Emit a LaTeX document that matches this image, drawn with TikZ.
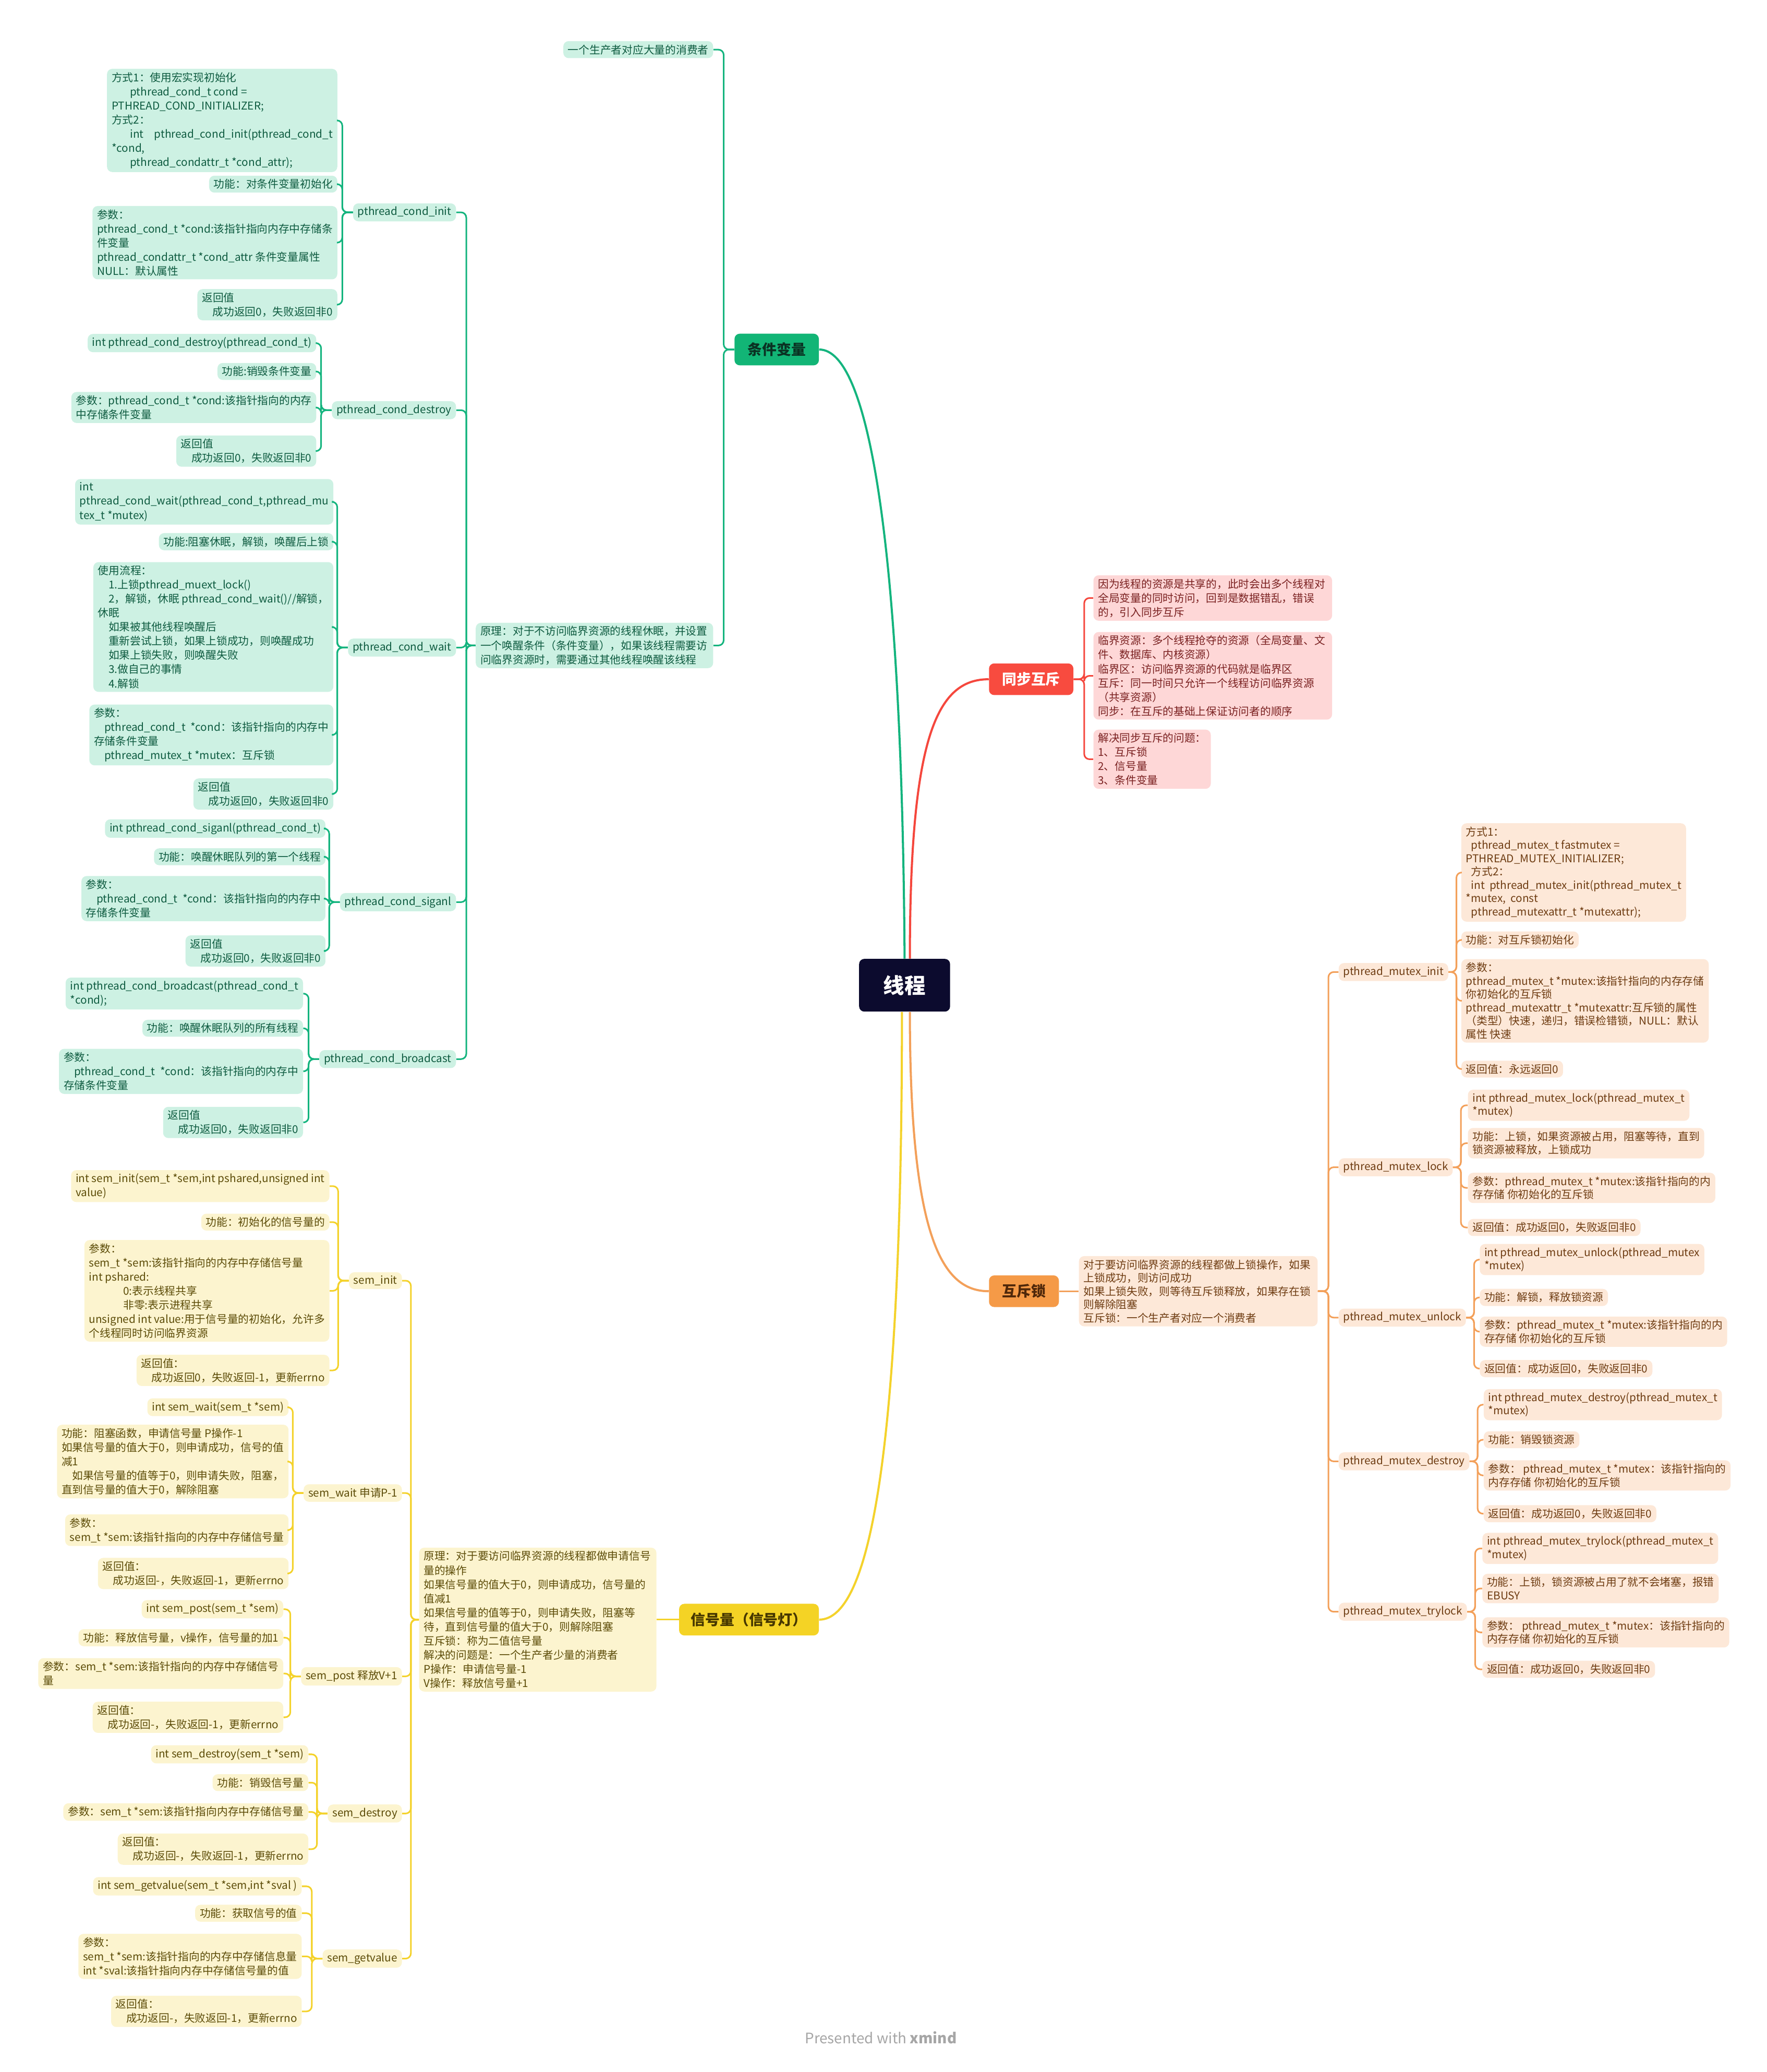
\documentclass[tikz,border=0pt]{standalone}
\usepackage{fontspec}
\setmainfont{Noto Sans CJK SC}
\begin{document}
\catcode`\_=12
\begin{tikzpicture}[x=1pt,y=-1pt,
 base/.style={rounded corners=4pt,inner xsep=3.5pt,inner ysep=2.6pt,align=left,font=\fontsize{8.2}{10.7}\selectfont},
 gl/.style={base,fill=gfill,text=gtext},
 yl/.style={base,fill=yfill,text=ytext},
 rl/.style={base,fill=rfill,text=rtext},
 ol/.style={base,fill=ofill,text=otext,font=\fontsize{8.2}{10.1}\selectfont},
 gc/.style={draw=gline,line width=1.2pt,rounded corners=4pt},
 yc/.style={draw=yline,line width=1.2pt,rounded corners=4pt},
 rc/.style={draw=rline,line width=1.2pt,rounded corners=4pt},
 oc/.style={draw=oline,line width=1.2pt,rounded corners=4pt},
 mainb/.style={rounded corners=4pt,inner sep=0pt,minimum height=24pt,font=\fontsize{11}{13}\selectfont\bfseries},
]
\definecolor{gline}{HTML}{14B47E}\definecolor{gfill}{HTML}{CDF1E3}\definecolor{gtext}{HTML}{0E5B40}\definecolor{gmainf}{HTML}{12B576}
\definecolor{yline}{HTML}{F4D22B}\definecolor{yfill}{HTML}{FCF4CF}\definecolor{ytext}{HTML}{5C4C08}\definecolor{ymainf}{HTML}{F4D325}
\definecolor{rline}{HTML}{F5473D}\definecolor{rfill}{HTML}{FED7D7}\definecolor{rtext}{HTML}{7A2121}\definecolor{rmainf}{HTML}{F84B3F}
\definecolor{oline}{HTML}{F3A05A}\definecolor{ofill}{HTML}{FDE8D8}\definecolor{otext}{HTML}{6E3C12}\definecolor{omainf}{HTML}{F59A47}
\useasboundingbox[fill=white] (0,0) rectangle (1340,1571);

% center and main topics
\node[rounded corners=4pt,fill={rgb,255:red,12;green,11;blue,46},text=white,minimum width=69pt,minimum height=40pt,font=\fontsize{16}{18}\selectfont\bfseries] (center) at (686,747) {线程};
\node[mainb,fill=gmainf,text={rgb,255:red,10;green,50;blue,35},minimum width=64pt] (gmain) at (589,265) {条件变量};
\node[mainb,fill=rmainf,text=white,minimum width=64pt] (rmain) at (782,515) {同步互斥};
\node[mainb,fill=omainf,text={rgb,255:red,80;green,40;blue,10},minimum width=53pt] (omain) at (776.5,979) {互斥锁};
\node[mainb,fill=ymainf,text={rgb,255:red,70;green,55;blue,0},minimum width=106pt] (ymain) at (568,1228) {信号量（信号灯）};

\draw[gline,line width=1.6pt] (center.north) .. controls (684,420) and (660,265) .. (gmain.east);
\draw[rline,line width=1.6pt] ([xshift=4pt]center.north) .. controls (690,560) and (710,515) .. (rmain.west);
\draw[oline,line width=1.6pt] ([xshift=4pt]center.south) .. controls (690,940) and (715,979) .. (omain.west);
\draw[yline,line width=1.6pt] ([xshift=-2pt]center.south) .. controls (684,1100) and (660,1228) .. (ymain.east);

% ===== green =====
\node[gl,anchor=north east] (g1) at (541,31) {一个生产者对应大量的消费者};
\node[gl,anchor=north east,text width=173pt] (gp) at (541,472) {原理：对于不访问临界资源的线程休眠，并设置\\一个唤醒条件（条件变量），如果该线程需要访\\问临界资源时，需要通过其他线程唤醒该线程};
\foreach \c in {g1,gp} \draw[gc] (gmain.west) -- ++(-8,0) |- (\c.east);

\node[gl,anchor=east] (gfi) at (346,161) {pthread_cond_init};
\node[gl,anchor=east] (gfd) at (346,311) {pthread_cond_destroy};
\node[gl,anchor=east] (gfw) at (346,491) {pthread_cond_wait};
\node[gl,anchor=east] (gfs) at (346,684) {pthread_cond_siganl};
\node[gl,anchor=east] (gfb) at (346,803) {pthread_cond_broadcast};
\foreach \c in {gfi,gfd,gfw,gfs,gfb} \draw[gc] (gp.west) -- ++(-7,0) |- (\c.east);

\node[gl,anchor=north east] (gi1) at (256,52) {方式1：使用宏实现初始化\\\hspace*{14pt}pthread_cond_t cond =\\PTHREAD_COND_INITIALIZER;\\方式2：\\\hspace*{14pt}int\hspace{8pt}pthread_cond_init(pthread_cond_t\\*cond,\\\hspace*{14pt}pthread_condattr_t *cond_attr);};
\node[gl,anchor=north east] (gi2) at (256,133) {功能：对条件变量初始化};
\node[gl,anchor=north east] (gi3) at (256,156) {参数：\\pthread_cond_t *cond:该指针指向内存中存储条\\件变量\\pthread_condattr_t *cond_attr 条件变量属性\\NULL：默认属性};
\node[gl,anchor=north east] (gi4) at (256,219) {返回值\\\hspace*{8pt}成功返回0，失败返回非0};
\foreach \c in {gi1,gi2,gi3,gi4} \draw[gc] (gfi.west) -- ++(-8,0) |- (\c.east);

\node[gl,anchor=north east] (gd1) at (240,253) {int pthread_cond_destroy(pthread_cond_t)};
\node[gl,anchor=north east] (gd2) at (240,275) {功能:销毁条件变量};
\node[gl,anchor=north east] (gd3) at (240,297) {参数：pthread_cond_t *cond:该指针指向的内存\\中存储条件变量};
\node[gl,anchor=north east] (gd4) at (240,330) {返回值\\\hspace*{8pt}成功返回0，失败返回非0};
\foreach \c in {gd1,gd2,gd3,gd4} \draw[gc] (gfd.west) -- ++(-8,0) |- (\c.east);

\node[gl,anchor=north east] (gw1) at (253,363) {int\\pthread_cond_wait(pthread_cond_t,pthread_mu\\tex_t *mutex)};
\node[gl,anchor=north east] (gw2) at (253,404) {功能:阻塞休眠，解锁，唤醒后上锁};
\node[gl,anchor=north east] (gw3) at (253,426) {使用流程：\\\hspace*{8pt}1.上锁pthread_muext_lock()\\\hspace*{8pt}2，解锁，休眠 pthread_cond_wait()//解锁，\\休眠\\\hspace*{8pt}如果被其他线程唤醒后\\\hspace*{8pt}重新尝试上锁，如果上锁成功，则唤醒成功\\\hspace*{8pt}如果上锁失败，则唤醒失败\\\hspace*{8pt}3.做自己的事情\\\hspace*{8pt}4.解锁};
\node[gl,anchor=north east] (gw4) at (253,534) {参数：\\\hspace*{8pt}pthread_cond_t\ \ *cond：该指针指向的内存中\\存储条件变量\\\hspace*{8pt}pthread_mutex_t *mutex：互斥锁};
\node[gl,anchor=north east] (gw5) at (253,590) {返回值\\\hspace*{8pt}成功返回0，失败返回非0};
\foreach \c in {gw1,gw2,gw3,gw4,gw5} \draw[gc] (gfw.west) -- ++(-8,0) |- (\c.east);

\node[gl,anchor=north east] (gs1) at (247,621) {int pthread_cond_siganl(pthread_cond_t)};
\node[gl,anchor=north east] (gs2) at (247,643) {功能：唤醒休眠队列的第一个线程};
\node[gl,anchor=north east] (gs3) at (247,664) {参数：\\\hspace*{8pt}pthread_cond_t\ \ *cond：该指针指向的内存中\\存储条件变量};
\node[gl,anchor=north east] (gs4) at (247,709) {返回值\\\hspace*{8pt}成功返回0，失败返回非0};
\foreach \c in {gs1,gs2,gs3,gs4} \draw[gc] (gfs.west) -- ++(-8,0) |- (\c.east);

\node[gl,anchor=north east] (gb1) at (230,741) {int pthread_cond_broadcast(pthread_cond_t\\*cond);};
\node[gl,anchor=north east] (gb2) at (230,773) {功能：唤醒休眠队列的所有线程};
\node[gl,anchor=north east] (gb3) at (230,795) {参数：\\\hspace*{8pt}pthread_cond_t\ \ *cond：该指针指向的内存中\\存储条件变量};
\node[gl,anchor=north east] (gb4) at (230,839) {返回值\\\hspace*{8pt}成功返回0，失败返回非0};
\foreach \c in {gb1,gb2,gb3,gb4} \draw[gc] (gfb.west) -- ++(-8,0) |- (\c.east);

% ===== red =====
\node[rl,anchor=north west,text width=174pt] (r1) at (829,436) {因为线程的资源是共享的，此时会出多个线程对\\全局变量的同时访问，回到是数据错乱，错误\\的，引入同步互斥};
\node[rl,anchor=north west,text width=174pt] (r2) at (829,479) {临界资源：多个线程抢夺的资源（全局变量、文\\件、数据库、内核资源）\\临界区：访问临界资源的代码就是临界区\\互斥：同一时间只允许一个线程访问临界资源\\（共享资源）\\同步：在互斥的基础上保证访问者的顺序};
\node[rl,anchor=north west] (r3) at (829,553) {解决同步互斥的问题：\\1、互斥锁\\2、信号量\\3、条件变量};
\foreach \c in {r1,r2,r3} \draw[rc] (rmain.east) -- ++(8,0) |- (\c.west);

% ===== orange =====
\node[ol,anchor=west,text width=174pt] (op) at (818,979) {对于要访问临界资源的线程都做上锁操作，如果\\上锁成功，则访问成功\\如果上锁失败，则等待互斥锁释放，如果存在锁\\则解除阻塞\\互斥锁：一个生产者对应一个消费者};
\draw[oc] (omain.east) -- (op.west);

\node[ol,anchor=west] (ofi) at (1015,737) {pthread_mutex_init};
\node[ol,anchor=west] (ofl) at (1015,885) {pthread_mutex_lock};
\node[ol,anchor=west] (ofu) at (1015,999) {pthread_mutex_unlock};
\node[ol,anchor=west] (ofd) at (1015,1108) {pthread_mutex_destroy};
\node[ol,anchor=west] (oft) at (1015,1222) {pthread_mutex_trylock};
\foreach \c in {ofi,ofl,ofu,ofd,oft} \draw[oc] (op.east) -- ++(8,0) |- (\c.west);

\node[ol,anchor=north west] (oi1) at (1108,624) {方式1：\\\hspace*{4pt}pthread_mutex_t fastmutex =\\PTHREAD_MUTEX_INITIALIZER;\\\hspace*{4pt}方式2：\\\hspace*{4pt}int\ \ pthread_mutex_init(pthread_mutex_t\\*mutex,\ \ const\\\hspace*{4pt}pthread_mutexattr_t *mutexattr);};
\node[ol,anchor=north west] (oi2) at (1108,706) {功能：对互斥锁初始化};
\node[ol,anchor=north west] (oi3) at (1108,727) {参数：\\pthread_mutex_t *mutex:该指针指向的内存存储\\你初始化的互斥锁\\pthread_mutexattr_t *mutexattr:互斥锁的属性\\（类型）快速，递归，错误检错锁，NULL：默认\\属性 快速};
\node[ol,anchor=north west] (oi4) at (1108,804) {返回值：永远返回0};
\foreach \c in {oi1,oi2,oi3,oi4} \draw[oc] (ofi.east) -- ++(6,0) |- (\c.west);

\node[ol,anchor=north west] (ol1) at (1113,826) {int pthread_mutex_lock(pthread_mutex_t\\*mutex)};
\node[ol,anchor=north west] (ol2) at (1113,855) {功能：上锁，如果资源被占用，阻塞等待，直到\\锁资源被释放，上锁成功};
\node[ol,anchor=north west] (ol3) at (1113,889) {参数：pthread_mutex_t *mutex:该指针指向的内\\存存储 你初始化的互斥锁};
\node[ol,anchor=north west] (ol4) at (1113,924) {返回值：成功返回0，失败返回非0};
\foreach \c in {ol1,ol2,ol3,ol4} \draw[oc] (ofl.east) -- ++(6,0) |- (\c.west);

\node[ol,anchor=north west] (ou1) at (1122,943) {int pthread_mutex_unlock(pthread_mutex\\*mutex)};
\node[ol,anchor=north west] (ou2) at (1122,977) {功能：解锁，释放锁资源};
\node[ol,anchor=north west] (ou3) at (1122,998) {参数：pthread_mutex_t *mutex:该指针指向的内\\存存储 你初始化的互斥锁};
\node[ol,anchor=north west] (ou4) at (1122,1031) {返回值：成功返回0，失败返回非0};
\foreach \c in {ou1,ou2,ou3,ou4} \draw[oc] (ofu.east) -- ++(6,0) |- (\c.west);

\node[ol,anchor=north west] (od1) at (1125,1053) {int pthread_mutex_destroy(pthread_mutex_t\\*mutex)};
\node[ol,anchor=north west] (od2) at (1125,1085) {功能：销毁锁资源};
\node[ol,anchor=north west] (od3) at (1125,1107) {参数：\ pthread_mutex_t *mutex：该指针指向的\\内存存储 你初始化的互斥锁};
\node[ol,anchor=north west] (od4) at (1125,1141) {返回值：成功返回0，失败返回非0};
\foreach \c in {od1,od2,od3,od4} \draw[oc] (ofd.east) -- ++(6,0) |- (\c.west);

\node[ol,anchor=north west] (ot1) at (1124,1162) {int pthread_mutex_trylock(pthread_mutex_t\\*mutex)};
\node[ol,anchor=north west] (ot2) at (1124,1193) {功能：上锁，锁资源被占用了就不会堵塞，报错\\EBUSY};
\node[ol,anchor=north west] (ot3) at (1124,1226) {参数：\ pthread_mutex_t *mutex：该指针指向的\\内存存储 你初始化的互斥锁};
\node[ol,anchor=north west] (ot4) at (1124,1259) {返回值：成功返回0，失败返回非0};
\foreach \c in {ot1,ot2,ot3,ot4} \draw[oc] (oft.east) -- ++(6,0) |- (\c.west);

% ===== yellow =====
\node[yl,anchor=east,text width=173pt] (yp) at (498,1228) {原理：对于要访问临界资源的线程都做申请信号\\量的操作\\如果信号量的值大于0，则申请成功，信号量的\\值减1\\如果信号量的值等于0，则申请失败，阻塞等\\待，直到信号量的值大于0，则解除阻塞\\互斥锁：称为二值信号量\\解决的问题是：一个生产者少量的消费者\\P操作：申请信号量-1\\V操作：释放信号量+1};
\draw[yc] (ymain.west) -- (yp.east);

\node[yl,anchor=east] (yfi) at (305,971) {sem_init};
\node[yl,anchor=east] (yfw) at (305,1132) {sem_wait 申请P-1};
\node[yl,anchor=east] (yfp) at (305,1271) {sem_post 释放V+1};
\node[yl,anchor=east] (yfd) at (305,1375) {sem_destroy};
\node[yl,anchor=east] (yfg) at (305,1485) {sem_getvalue};
\foreach \c in {yfi,yfw,yfp,yfd,yfg} \draw[yc] (yp.west) -- ++(-6,0) |- (\c.east);

\node[yl,anchor=north east] (yi1) at (250,887) {int sem_init(sem_t *sem,int pshared,unsigned int\\value)};
\node[yl,anchor=north east] (yi2) at (250,920) {功能：初始化的信号量的};
\node[yl,anchor=north east] (yi3) at (250,940) {参数：\\sem_t *sem:该指针指向的内存中存储信号量\\int pshared:\\\hspace*{26pt}0:表示线程共享\\\hspace*{26pt}非零:表示进程共享\\unsigned int value:用于信号量的初始化，允许多\\个线程同时访问临界资源};
\node[yl,anchor=north east] (yi4) at (250,1027) {返回值：\\\hspace*{8pt}成功返回0，失败返回-1，更新errno};
\foreach \c in {yi1,yi2,yi3,yi4} \draw[yc] (yfi.west) -- ++(-8,0) |- (\c.east);

\node[yl,anchor=north east] (yw1) at (219,1060) {int sem_wait(sem_t *sem)};
\node[yl,anchor=north east] (yw2) at (219,1080) {功能：阻塞函数，申请信号量 P操作-1\\如果信号量的值大于0，则申请成功，信号的值\\减1\\\hspace*{8pt}如果信号量的值等于0，则申请失败，阻塞，\\直到信号量的值大于0，解除阻塞};
\node[yl,anchor=north east] (yw3) at (219,1148) {参数：\\sem_t *sem:该指针指向的内存中存储信号量};
\node[yl,anchor=north east] (yw4) at (219,1181) {返回值：\\\hspace*{8pt}成功返回-，失败返回-1，更新errno};
\foreach \c in {yw1,yw2,yw3,yw4} \draw[yc] (yfw.west) -- ++(-8,0) |- (\c.east);

\node[yl,anchor=north east] (yq1) at (215,1213) {int sem_post(sem_t *sem)};
\node[yl,anchor=north east] (yq2) at (215,1235) {功能：释放信号量，v操作，信号量的加1};
\node[yl,anchor=north east] (yq3) at (215,1257) {参数：sem_t *sem:该指针指向的内存中存储信号\\量};
\node[yl,anchor=north east] (yq4) at (215,1290) {返回值：\\\hspace*{8pt}成功返回-，失败返回-1，更新errno};
\foreach \c in {yq1,yq2,yq3,yq4} \draw[yc] (yfp.west) -- ++(-8,0) |- (\c.east);

\node[yl,anchor=north east] (yd1) at (234,1323) {int sem_destroy(sem_t *sem)};
\node[yl,anchor=north east] (yd2) at (234,1345) {功能：销毁信号量};
\node[yl,anchor=north east] (yd3) at (234,1367) {参数：sem_t *sem:该指针指向内存中存储信号量};
\node[yl,anchor=north east] (yd4) at (234,1390) {返回值：\\\hspace*{8pt}成功返回-，失败返回-1，更新errno};
\foreach \c in {yd1,yd2,yd3,yd4} \draw[yc] (yfd.west) -- ++(-8,0) |- (\c.east);

\node[yl,anchor=north east] (yg1) at (229,1423) {int sem_getvalue(sem_t *sem,int *sval )};
\node[yl,anchor=north east] (yg2) at (229,1444) {功能：获取信号的值};
\node[yl,anchor=north east] (yg3) at (229,1466) {参数：\\sem_t *sem:该指针指向的内存中存储信息量\\int *sval:该指针指向内存中存储信号量的值};
\node[yl,anchor=north east] (yg4) at (229,1513) {返回值：\\\hspace*{8pt}成功返回-，失败返回-1，更新errno};
\foreach \c in {yg1,yg2,yg3,yg4} \draw[yc] (yfg.west) -- ++(-8,0) |- (\c.east);

\node[text=black!35,font=\fontsize{11}{13}\selectfont] (foot) at (668,1545) {Presented with \textbf{xmind}};
\end{tikzpicture}
\end{document}
